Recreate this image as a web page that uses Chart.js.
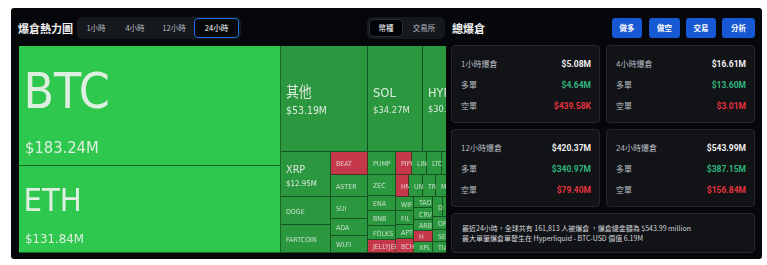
<!DOCTYPE html>
<html lang="zh-Hant">
<head>
<meta charset="utf-8">
<title>爆倉熱力圖</title>
<script src="https://cdn.jsdelivr.net/npm/chart.js@4.4.1/dist/chart.umd.min.js"></script>
<style>
  html, body { margin: 0; padding: 0; background: #fff; }
  body { width: 767px; height: 265px; position: relative; overflow: hidden;
         font-family: "Noto Sans CJK TC", "Noto Sans", sans-serif; color: #e8e8e8; }
  #board { position: absolute; left: 11px; top: 8px; width: 751px; height: 251px; background: #05070b; border-radius: 3px; }
  .title { position: absolute; top: 18px; height: 20px; line-height: 20px; font-size: 11px; font-weight: 700; color: #f3f3f3; }
  .seg { position: absolute; top: 17px; height: 22px; background: #15181d; border-radius: 5px; }
  .item { position: absolute; top: 17px; height: 22px; line-height: 22px; width: 44px; text-align: center;
          font-size: 7.5px; color: #b9bdc3; white-space: nowrap; }
  .tab_on { position: absolute; top: 18px; height: 20px; box-sizing: border-box; border: 1.5px solid #1c6fe6;
            background: #05070b; border-radius: 4px; }
  .tog_on { position: absolute; top: 19px; height: 18px; box-sizing: border-box; border: 1px solid #2b2e34;
            background: #020305; border-radius: 4px; }
  .btn { position: absolute; top: 18px; height: 20px; line-height: 20px; text-align: center; background: #1758d3;
         border-radius: 3px; font-size: 7.5px; font-weight: 700; color: #fff; }
  #heatmap_box { position: absolute; left: 19px; top: 46px; width: 427px; height: 207px; }
  .panel { position: absolute; width: 149px; height: 78px; box-sizing: border-box; background: #111317;
           border: 1px solid #24272d; border-radius: 4px; }
  .row { position: absolute; left: 9px; right: 8px; height: 12px; line-height: 12px; }
  .lbl { position: absolute; left: 0; font-size: 8px; color: #b8bbc0; }
  .val { position: absolute; right: 0; font-family: Roboto, sans-serif; font-size: 8.5px; font-weight: 700; color: #f0f0f0; }
  .summary { position: absolute; left: 451px; top: 213px; width: 304px; height: 40px; box-sizing: border-box;
             background: #111317; border: 1px solid #24272d; border-radius: 4px; padding: 9px 0 0 10px;
             font-size: 7px; line-height: 10px; color: #d6d8db; white-space: nowrap; }
</style>
</head>
<body>
<div id="board"></div>

<div class="title" style="left:18px">爆倉熱力圖</div>
<div class="seg" style="left:77px;width:164px"></div>
<div class="tab_on" style="left:194px;width:45px"></div>
<div class="item" style="left:74px">1小時</div>
<div class="item" style="left:113px">4小時</div>
<div class="item" style="left:152px">12小時</div>
<div class="item" style="left:194.5px;color:#fff">24小時</div>

<div class="seg" style="left:367px;width:78px"></div>
<div class="tog_on" style="left:369px;width:34px"></div>
<div class="item" style="left:364px;color:#fff">幣種</div>
<div class="item" style="left:402px">交易所</div>

<div class="title" style="left:452px">總爆倉</div>
<div class="btn" style="left:612px;width:30px">做多</div>
<div class="btn" style="left:649px;width:31px">做空</div>
<div class="btn" style="left:686px;width:30px">交易</div>
<div class="btn" style="left:722px;width:33px">分析</div>

<div id="heatmap_box"><canvas id="heatmap"></canvas></div>
<div id="panels"></div>
<div class="summary">
  最近24小時，全球共有 161,813 人被爆倉 ，爆倉總金額為 $543.99 million<br>
  最大單筆爆倉單發生在 Hyperliquid - BTC-USD 價值 6.19M
</div>

<script>
// liquidations per coin, last 24h (million USD), sorted as the heatmap draws them
var coins = ["BTC", "ETH", "其他", "SOL", "HYPE", "XRP", "DOGE", "FARTCOIN",
  "BEAT", "ASTER", "SUI", "ADA", "WLFI",
  "PUMP", "ZEC", "ENA", "BNB", "FOLKS", "JELLYJELLY",
  "PIPPIN", "LINK", "LTC", "AVAX", "ETC",
  "HMSTR", "UNI", "TRX", "MON", "NEAR", "ONDO",
  "WIF", "FIL", "APT", "BCH",
  "TAO", "CRV", "ARB", "H", "XPL",
  "DOT", "XLM", "ENS",
  "DASH", "OP", "SEI", "TIA",
  "RIVER", "WLD",
  "INJ", "ORDI", "AAVE", "STX"];
var liq_values = [183.24, 131.84, 53.19, 34.27, 30.15, 12.95, 8.12, 8.08,
  4.94, 4.68, 4.62, 3.80, 3.59,
  3.55, 3.45, 2.42, 2.40, 2.15, 2.14,
  2.13, 2.05, 2.00, 1.99, 1.97,
  1.70, 1.65, 1.62, 1.58, 1.52, 1.48,
  1.47, 1.46, 1.45, 1.44,
  1.26, 1.25, 1.24, 1.23, 1.22,
  1.20, 1.18, 1.15,
  1.12, 1.10, 1.05, 1.00,
  0.95, 0.90,
  0.85, 0.80, 0.75, 0.65];
// share of the liquidated amount that was long positions
var long_share = [0.86, 0.88, 0.66, 0.70, 0.68, 0.72, 0.64, 0.62,
  0.30, 0.65, 0.63, 0.66, 0.60,
  0.62, 0.58, 0.64, 0.61, 0.66, 0.35,
  0.33, 0.62, 0.65, 0.60, 0.61,
  0.32, 0.63, 0.60, 0.62, 0.61, 0.60,
  0.64, 0.62, 0.60, 0.36,
  0.63, 0.61, 0.62, 0.34, 0.60,
  0.62, 0.60, 0.61,
  0.35, 0.62, 0.60, 0.61,
  0.33, 0.62,
  0.60, 0.61, 0.62, 0.60];

var periods = ["1小時", "4小時", "12小時", "24小時"];
var total_liq = ["$5.08M", "$16.61M", "$420.37M", "$543.99M"];
var long_liq = ["$4.64M", "$13.60M", "$340.97M", "$387.15M"];
var short_liq = ["$439.58K", "$3.01M", "$79.40M", "$156.84M"];

var VIEW_W = 427, TREE_W = 453, TREE_H = 207;
var FONT = '"DejaVu Sans", "Noto Sans CJK TC", sans-serif';

// d3 style squarified layout (golden ratio)
var squarify = function(values, x0, y0, x1, y1) {
  var ratio = (1 + Math.sqrt(5)) / 2;
  var rects = [];
  var value = values.reduce(function(a, b) { return a + b; }, 0);
  var i0 = 0, i1 = 0, n = values.length;
  while (i0 < n) {
    var dx = x1 - x0, dy = y1 - y0;
    var sum = values[i1++];
    var min_v = sum, max_v = sum;
    var alpha = Math.max(dy / dx, dx / dy) / (value * ratio);
    var beta = sum * sum * alpha;
    var min_ratio = Math.max(max_v / beta, beta / min_v);
    for (; i1 < n; ++i1) {
      var v = values[i1];
      sum += v;
      if (v < min_v) min_v = v;
      if (v > max_v) max_v = v;
      beta = sum * sum * alpha;
      var new_ratio = Math.max(max_v / beta, beta / min_v);
      if (new_ratio > min_ratio) { sum -= v; break; }
      min_ratio = new_ratio;
    }
    var i, pos;
    if (dx < dy) {
      var yy = y0 + dy * sum / value;
      pos = x0;
      for (i = i0; i < i1; i++) {
        var w = dx * values[i] / sum;
        rects[i] = { x0: pos, y0: y0, x1: pos + w, y1: yy };
        pos += w;
      }
      y0 = yy;
    } else {
      var xx = x0 + dx * sum / value;
      pos = y0;
      for (i = i0; i < i1; i++) {
        var h = dy * values[i] / sum;
        rects[i] = { x0: x0, y0: pos, x1: xx, y1: pos + h };
        pos += h;
      }
      x0 = xx;
    }
    value -= sum;
    i0 = i1;
  }
  return rects;
};

var cell_color = function(share) {
  if (share >= 0.8) return "#2ec84e";
  if (share >= 0.5) return "#2b973f";
  return "#c4384a";
};

var put_text = function(ctx, text, x, y, size) {
  ctx.save();
  ctx.font = "400 " + size + "px " + FONT;
  ctx.translate(x, y);
  ctx.scale(0.9, 1);
  ctx.fillText(text, 0, 0);
  ctx.restore();
};

var draw_cell_text = function(ctx, r, name, value) {
  var w = r.x1 - r.x0, h = r.y1 - r.y0;
  ctx.save();
  ctx.beginPath();
  ctx.rect(r.x0, r.y0, w, h);
  ctx.clip();
  ctx.fillStyle = "rgba(238,242,238,0.92)";
  ctx.textBaseline = "alphabetic";
  var x = r.x0 + 5;
  var label = "$" + value.toFixed(2) + "M";
  if (w > 150) {
    var fs = Math.min(w * 0.19, 0.514 * h - 12.2);
    var vfs = 0.1 * h + 4.4;
    var yb = r.y0 + 0.52 * h;
    put_text(ctx, name, x - 0.5, yb, fs);
    put_text(ctx, label, x + 1, yb + 0.37 * h, vfs);
  } else if (w >= 40 && h >= 40) {
    var fs2 = 7.3 + 0.073 * Math.sqrt(w * h);
    var vfs2 = fs2 * 0.73;
    var yb2 = (r.y0 + r.y1) / 2 - 0.15 * fs2;
    put_text(ctx, name, x, yb2, fs2);
    put_text(ctx, label, x, yb2 + 0.2 * fs2 + vfs2 + 3.6, vfs2);
  } else {
    ctx.fillStyle = "rgba(235,240,235,0.8)";
    put_text(ctx, name, x, (r.y0 + r.y1) / 2 + 2.5, 7);
  }
  ctx.restore();
};

var treemap_plugin = {
  id: "treemap",
  afterDraw: function(chart) {
    var ctx = chart.ctx;
    var sx = chart.scales.x, sy = chart.scales.y;
    var layout = squarify(liq_values, 0, 0, TREE_W, TREE_H);
    var area = chart.chartArea;
    ctx.save();
    ctx.beginPath();
    ctx.rect(area.left, area.top, area.right - area.left, area.bottom - area.top);
    ctx.clip();
    var px = layout.map(function(c) {
      return {
        x0: Math.round(sx.getPixelForValue(c.x0)), x1: Math.round(sx.getPixelForValue(c.x1)),
        y0: Math.round(sy.getPixelForValue(c.y0)), y1: Math.round(sy.getPixelForValue(c.y1))
      };
    });
    px.forEach(function(r, i) {
      ctx.fillStyle = cell_color(long_share[i]);
      ctx.fillRect(r.x0, r.y0, r.x1 - r.x0, r.y1 - r.y0);
    });
    ctx.strokeStyle = "rgba(6,40,14,0.6)";
    ctx.lineWidth = 1;
    px.forEach(function(r) {
      ctx.beginPath();
      ctx.moveTo(r.x1 - 0.5, r.y0);
      ctx.lineTo(r.x1 - 0.5, r.y1 - 0.5);
      ctx.lineTo(r.x0, r.y1 - 0.5);
      ctx.stroke();
    });
    px.forEach(function(r, i) {
      draw_cell_text(ctx, r, coins[i], liq_values[i]);
    });
    ctx.restore();
  }
};

var chart = new Chart("heatmap", {
  type: "scatter",
  data: { datasets: [] },
  options: {
    responsive: true,
    maintainAspectRatio: false,
    animation: false,
    layout: { padding: 0 },
    events: [],
    plugins: { legend: { display: false }, tooltip: { enabled: false } },
    scales: {
      x: { type: "linear", min: 0, max: VIEW_W, display: false },
      y: { type: "linear", min: 0, max: TREE_H, reverse: true, display: false }
    }
  },
  plugins: [treemap_plugin]
});

// summary panels
var panel_pos = [[451, 45], [606, 45], [451, 129], [606, 129]];
var panels_div = document.getElementById("panels");
for (var p = 0; p < periods.length; p++) {
  var panel = document.createElement("div");
  panel.className = "panel";
  panel.style.left = panel_pos[p][0] + "px";
  panel.style.top = panel_pos[p][1] + "px";
  var rows = [
    [periods[p] + "爆倉", total_liq[p], "#f0f0f0"],
    ["多單", long_liq[p], "#2fb57c"],
    ["空單", short_liq[p], "#e5323f"]
  ];
  for (var r = 0; r < rows.length; r++) {
    var row = document.createElement("div");
    row.className = "row";
    row.style.top = (12 + r * 21) + "px";
    row.innerHTML = '<span class="lbl">' + rows[r][0] + '</span><span class="val" style="color:' +
      rows[r][2] + '">' + rows[r][1] + '</span>';
    panel.appendChild(row);
  }
  panels_div.appendChild(panel);
}
</script>
</body>
</html>
